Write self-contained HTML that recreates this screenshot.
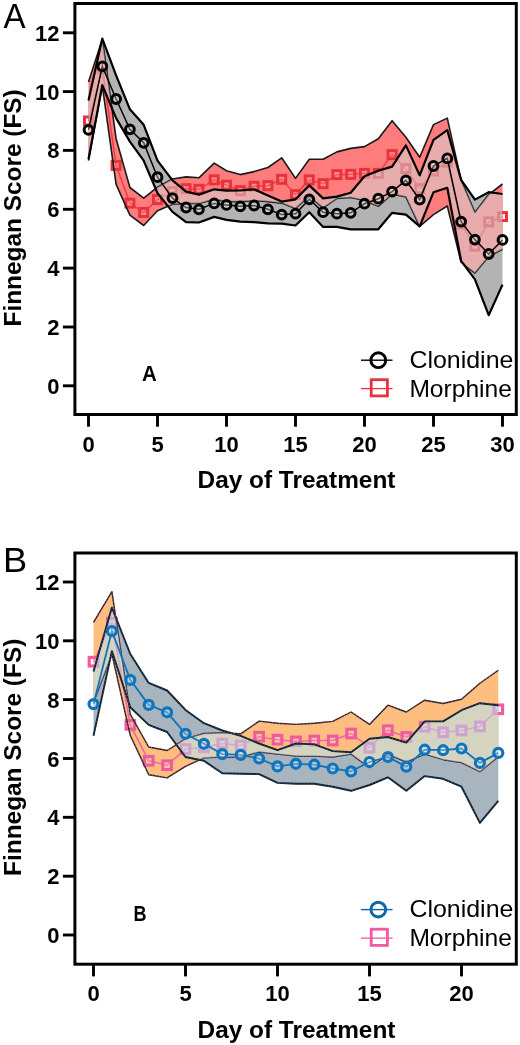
<!DOCTYPE html>
<html><head><meta charset="utf-8"><style>
html,body{margin:0;padding:0;background:#fff;}
svg{display:block;will-change:transform;}
text{font-family:"Liberation Sans",sans-serif;fill:#000;}
.tk{font-size:22px;font-weight:bold;}
.ti{font-size:24.4px;font-weight:bold;}
.pl{font-size:34.5px;}
.il{font-size:20.5px;font-weight:bold;}
.lg{font-size:24px;}
</style></head><body>
<svg width="520" height="1045" viewBox="0 0 520 1045">
<rect width="520" height="1045" fill="#fff"/>
<clipPath id="cA"><polygon points="88.5,100.4 102.3,38.6 116.1,75.4 129.9,109.3 143.7,124.8 157.5,160.7 172.5,180.4 186.1,191.6 198.9,194.6 214.2,189.3 226.5,190.7 240.3,190.5 254.1,189.3 267.9,195.5 281.7,201.6 295.5,199.3 309.3,185.4 323.1,198.4 336.9,196.6 350.7,192.8 364.5,176.3 378.3,170.7 392.1,166.6 405.9,145.4 419.7,175.4 433.5,139.8 447.3,130.1 461.1,179.9 474.9,199.6 488.7,192.2 502.5,194 502.5,284.6 488.7,315.2 474.9,279.3 461.1,260.8 447.3,187.8 433.5,192.2 419.7,226.3 405.9,214.6 392.1,212.8 378.3,229.3 364.5,229.3 350.7,229.3 336.9,226.9 323.1,226.9 309.3,212.2 295.5,225.5 281.7,223.7 267.9,223.4 254.1,222.2 240.3,221.6 226.5,219.9 214.2,216.9 198.9,222.5 186.1,222.2 172.5,211.9 157.5,193.1 143.7,160.7 129.9,141.6 116.1,118.1 102.3,85.1 88.5,159.3"/></clipPath>
<polygon points="88.5,100.4 102.3,38.6 116.1,75.4 129.9,109.3 143.7,124.8 157.5,160.7 172.5,180.4 186.1,191.6 198.9,194.6 214.2,189.3 226.5,190.7 240.3,190.5 254.1,189.3 267.9,195.5 281.7,201.6 295.5,199.3 309.3,185.4 323.1,198.4 336.9,196.6 350.7,192.8 364.5,176.3 378.3,170.7 392.1,166.6 405.9,145.4 419.7,175.4 433.5,139.8 447.3,130.1 461.1,179.9 474.9,199.6 488.7,192.2 502.5,194 502.5,284.6 488.7,315.2 474.9,279.3 461.1,260.8 447.3,187.8 433.5,192.2 419.7,226.3 405.9,214.6 392.1,212.8 378.3,229.3 364.5,229.3 350.7,229.3 336.9,226.9 323.1,226.9 309.3,212.2 295.5,225.5 281.7,223.7 267.9,223.4 254.1,222.2 240.3,221.6 226.5,219.9 214.2,216.9 198.9,222.5 186.1,222.2 172.5,211.9 157.5,193.1 143.7,160.7 129.9,141.6 116.1,118.1 102.3,85.1 88.5,159.3" fill="#B3B3B3"/>
<polygon points="88.5,81.9 102.3,39.2 116.1,138.7 129.9,187.5 143.7,198.1 157.5,187.2 172.5,179 186.1,176.9 198.9,177.8 214.2,163.1 226.5,170.7 240.3,174.6 254.1,171.6 267.9,167.5 281.7,157.8 295.5,178.4 309.3,159.3 323.1,159.3 336.9,151.9 350.7,148.4 364.5,146.6 378.3,138.7 392.1,120.7 405.9,137.2 419.7,157.2 433.5,124.6 447.3,118.1 461.1,180.4 474.9,212.5 488.7,194.6 502.5,184 502.5,249.3 488.7,256.4 474.9,273.1 461.1,262.2 447.3,206 433.5,214.6 419.7,226.3 405.9,196.9 392.1,194 378.3,206.3 364.5,200.5 350.7,197.5 336.9,198.4 323.1,207.8 309.3,196 295.5,208.4 281.7,203.1 267.9,201.6 254.1,200.5 240.3,201.6 226.5,201.6 214.2,199.3 198.9,203.4 186.1,203.4 172.5,204.3 157.5,210.8 143.7,225.5 129.9,215.2 116.1,184.3 102.3,85.7 88.5,160.7" fill="#FF7C7C"/>
<polyline points="88.5,121 102.3,68.1 116.1,165.4 129.9,203.1 143.7,212.5 157.5,199.6 172.5,191.6 186.1,188.7 198.9,189.3 214.2,179.9 226.5,185.2 240.3,190.7 254.1,186.3 267.9,185.7 281.7,179.3 295.5,194.6 309.3,179.9 323.1,183.7 336.9,174.6 350.7,174.3 364.5,173.4 378.3,173.4 392.1,154.6 405.9,168.7 419.7,188.7 433.5,171 447.3,162.2 461.1,224 474.9,246.1 488.7,221.9 502.5,216.6" fill="none" stroke="#E83A44" stroke-width="1.4"/>
<rect x="84.5" y="117" width="8" height="8" fill="rgba(255,255,255,0.15)" stroke="#E8323C" stroke-width="3.0"/>
<rect x="98.3" y="64.1" width="8" height="8" fill="rgba(255,255,255,0.15)" stroke="#E8323C" stroke-width="3.0"/>
<rect x="112.1" y="161.4" width="8" height="8" fill="rgba(255,255,255,0.15)" stroke="#E8323C" stroke-width="3.0"/>
<rect x="125.9" y="199.1" width="8" height="8" fill="rgba(255,255,255,0.15)" stroke="#E8323C" stroke-width="3.0"/>
<rect x="139.7" y="208.5" width="8" height="8" fill="rgba(255,255,255,0.15)" stroke="#E8323C" stroke-width="3.0"/>
<rect x="153.5" y="195.6" width="8" height="8" fill="rgba(255,255,255,0.15)" stroke="#E8323C" stroke-width="3.0"/>
<rect x="168.5" y="187.6" width="8" height="8" fill="rgba(255,255,255,0.15)" stroke="#E8323C" stroke-width="3.0"/>
<rect x="182.1" y="184.7" width="8" height="8" fill="rgba(255,255,255,0.15)" stroke="#E8323C" stroke-width="3.0"/>
<rect x="194.9" y="185.3" width="8" height="8" fill="rgba(255,255,255,0.15)" stroke="#E8323C" stroke-width="3.0"/>
<rect x="210.2" y="175.9" width="8" height="8" fill="rgba(255,255,255,0.15)" stroke="#E8323C" stroke-width="3.0"/>
<rect x="222.5" y="181.2" width="8" height="8" fill="rgba(255,255,255,0.15)" stroke="#E8323C" stroke-width="3.0"/>
<rect x="236.3" y="186.7" width="8" height="8" fill="rgba(255,255,255,0.15)" stroke="#E8323C" stroke-width="3.0"/>
<rect x="250.1" y="182.3" width="8" height="8" fill="rgba(255,255,255,0.15)" stroke="#E8323C" stroke-width="3.0"/>
<rect x="263.9" y="181.7" width="8" height="8" fill="rgba(255,255,255,0.15)" stroke="#E8323C" stroke-width="3.0"/>
<rect x="277.7" y="175.3" width="8" height="8" fill="rgba(255,255,255,0.15)" stroke="#E8323C" stroke-width="3.0"/>
<rect x="291.5" y="190.6" width="8" height="8" fill="rgba(255,255,255,0.15)" stroke="#E8323C" stroke-width="3.0"/>
<rect x="305.3" y="175.9" width="8" height="8" fill="rgba(255,255,255,0.15)" stroke="#E8323C" stroke-width="3.0"/>
<rect x="319.1" y="179.7" width="8" height="8" fill="rgba(255,255,255,0.15)" stroke="#E8323C" stroke-width="3.0"/>
<rect x="332.9" y="170.6" width="8" height="8" fill="rgba(255,255,255,0.15)" stroke="#E8323C" stroke-width="3.0"/>
<rect x="346.7" y="170.3" width="8" height="8" fill="rgba(255,255,255,0.15)" stroke="#E8323C" stroke-width="3.0"/>
<rect x="360.5" y="169.4" width="8" height="8" fill="rgba(255,255,255,0.15)" stroke="#E8323C" stroke-width="3.0"/>
<rect x="374.3" y="169.4" width="8" height="8" fill="rgba(255,255,255,0.15)" stroke="#E8323C" stroke-width="3.0"/>
<rect x="388.1" y="150.6" width="8" height="8" fill="rgba(255,255,255,0.15)" stroke="#E8323C" stroke-width="3.0"/>
<rect x="401.9" y="164.7" width="8" height="8" fill="rgba(255,255,255,0.15)" stroke="#E8323C" stroke-width="3.0"/>
<rect x="415.7" y="184.7" width="8" height="8" fill="rgba(255,255,255,0.15)" stroke="#E8323C" stroke-width="3.0"/>
<rect x="429.5" y="167" width="8" height="8" fill="rgba(255,255,255,0.15)" stroke="#E8323C" stroke-width="3.0"/>
<rect x="443.3" y="158.2" width="8" height="8" fill="rgba(255,255,255,0.15)" stroke="#E8323C" stroke-width="3.0"/>
<rect x="457.1" y="220" width="8" height="8" fill="rgba(255,255,255,0.15)" stroke="#E8323C" stroke-width="3.0"/>
<rect x="470.9" y="242.1" width="8" height="8" fill="rgba(255,255,255,0.15)" stroke="#E8323C" stroke-width="3.0"/>
<rect x="484.7" y="217.9" width="8" height="8" fill="rgba(255,255,255,0.15)" stroke="#E8323C" stroke-width="3.0"/>
<rect x="498.5" y="212.6" width="8" height="8" fill="rgba(255,255,255,0.15)" stroke="#E8323C" stroke-width="3.0"/>
<polyline points="88.5,81.9 102.3,39.2 116.1,138.7 129.9,187.5 143.7,198.1 157.5,187.2 172.5,179 186.1,176.9 198.9,177.8 214.2,163.1 226.5,170.7 240.3,174.6 254.1,171.6 267.9,167.5 281.7,157.8 295.5,178.4 309.3,159.3 323.1,159.3 336.9,151.9 350.7,148.4 364.5,146.6 378.3,138.7 392.1,120.7 405.9,137.2 419.7,157.2 433.5,124.6 447.3,118.1 461.1,180.4 474.9,212.5 488.7,194.6 502.5,184" fill="none" stroke="#1a1a1a" stroke-width="1.6" stroke-dasharray="none" stroke-linejoin="round"/>
<polyline points="88.5,160.7 102.3,85.7 116.1,184.3 129.9,215.2 143.7,225.5 157.5,210.8 172.5,204.3 186.1,203.4 198.9,203.4 214.2,199.3 226.5,201.6 240.3,201.6 254.1,200.5 267.9,201.6 281.7,203.1 295.5,208.4 309.3,196 323.1,207.8 336.9,198.4 350.7,197.5 364.5,200.5 378.3,206.3 392.1,194 405.9,196.9 419.7,226.3 433.5,214.6 447.3,206 461.1,262.2 474.9,273.1 488.7,256.4 502.5,249.3" fill="none" stroke="#1a1a1a" stroke-width="1.6" stroke-dasharray="none" stroke-linejoin="round"/>
<polygon points="88.5,81.9 102.3,39.2 116.1,138.7 129.9,187.5 143.7,198.1 157.5,187.2 172.5,179 186.1,176.9 198.9,177.8 214.2,163.1 226.5,170.7 240.3,174.6 254.1,171.6 267.9,167.5 281.7,157.8 295.5,178.4 309.3,159.3 323.1,159.3 336.9,151.9 350.7,148.4 364.5,146.6 378.3,138.7 392.1,120.7 405.9,137.2 419.7,157.2 433.5,124.6 447.3,118.1 461.1,180.4 474.9,212.5 488.7,194.6 502.5,184 502.5,249.3 488.7,256.4 474.9,273.1 461.1,262.2 447.3,206 433.5,214.6 419.7,226.3 405.9,196.9 392.1,194 378.3,206.3 364.5,200.5 350.7,197.5 336.9,198.4 323.1,207.8 309.3,196 295.5,208.4 281.7,203.1 267.9,201.6 254.1,200.5 240.3,201.6 226.5,201.6 214.2,199.3 198.9,203.4 186.1,203.4 172.5,204.3 157.5,210.8 143.7,225.5 129.9,215.2 116.1,184.3 102.3,85.7 88.5,160.7" fill="rgba(209,220,220,0.5)" clip-path="url(#cA)"/>
<polyline points="88.5,100.4 102.3,38.6 116.1,75.4 129.9,109.3 143.7,124.8 157.5,160.7 172.5,180.4 186.1,191.6 198.9,194.6 214.2,189.3 226.5,190.7 240.3,190.5 254.1,189.3 267.9,195.5 281.7,201.6 295.5,199.3 309.3,185.4 323.1,198.4 336.9,196.6 350.7,192.8 364.5,176.3 378.3,170.7 392.1,166.6 405.9,145.4 419.7,175.4 433.5,139.8 447.3,130.1 461.1,179.9 474.9,199.6 488.7,192.2 502.5,194" fill="none" stroke="#000" stroke-width="2.2" stroke-linejoin="round"/>
<polyline points="88.5,159.3 102.3,85.1 116.1,118.1 129.9,141.6 143.7,160.7 157.5,193.1 172.5,211.9 186.1,222.2 198.9,222.5 214.2,216.9 226.5,219.9 240.3,221.6 254.1,222.2 267.9,223.4 281.7,223.7 295.5,225.5 309.3,212.2 323.1,226.9 336.9,226.9 350.7,229.3 364.5,229.3 378.3,229.3 392.1,212.8 405.9,214.6 419.7,226.3 433.5,192.2 447.3,187.8 461.1,260.8 474.9,279.3 488.7,315.2 502.5,284.6" fill="none" stroke="#000" stroke-width="2.2" stroke-linejoin="round"/>
<polyline points="88.5,129.8 102.3,66.3 116.1,99 129.9,129.3 143.7,142.8 157.5,177.2 172.5,198.1 186.1,207.5 198.9,209.3 214.2,203.4 226.5,204.9 240.3,206.3 254.1,205.5 267.9,209.3 281.7,214.6 295.5,213.7 309.3,199.3 323.1,212.2 336.9,213.7 350.7,212.8 364.5,203.7 378.3,198.7 392.1,191.6 405.9,180.4 419.7,199.6 433.5,166 447.3,158.4 461.1,221.6 474.9,239.6 488.7,254 502.5,239.9" fill="none" stroke="#000" stroke-width="1.5"/>
<circle cx="88.5" cy="129.8" r="4.4" fill="rgba(255,255,255,0.3)" stroke="#000" stroke-width="3.0"/>
<circle cx="102.3" cy="66.3" r="4.4" fill="rgba(255,255,255,0.3)" stroke="#000" stroke-width="3.0"/>
<circle cx="116.1" cy="99" r="4.4" fill="rgba(255,255,255,0.3)" stroke="#000" stroke-width="3.0"/>
<circle cx="129.9" cy="129.3" r="4.4" fill="rgba(255,255,255,0.3)" stroke="#000" stroke-width="3.0"/>
<circle cx="143.7" cy="142.8" r="4.4" fill="rgba(255,255,255,0.3)" stroke="#000" stroke-width="3.0"/>
<circle cx="157.5" cy="177.2" r="4.4" fill="rgba(255,255,255,0.3)" stroke="#000" stroke-width="3.0"/>
<circle cx="172.5" cy="198.1" r="4.4" fill="rgba(255,255,255,0.3)" stroke="#000" stroke-width="3.0"/>
<circle cx="186.1" cy="207.5" r="4.4" fill="rgba(255,255,255,0.3)" stroke="#000" stroke-width="3.0"/>
<circle cx="198.9" cy="209.3" r="4.4" fill="rgba(255,255,255,0.3)" stroke="#000" stroke-width="3.0"/>
<circle cx="214.2" cy="203.4" r="4.4" fill="rgba(255,255,255,0.3)" stroke="#000" stroke-width="3.0"/>
<circle cx="226.5" cy="204.9" r="4.4" fill="rgba(255,255,255,0.3)" stroke="#000" stroke-width="3.0"/>
<circle cx="240.3" cy="206.3" r="4.4" fill="rgba(255,255,255,0.3)" stroke="#000" stroke-width="3.0"/>
<circle cx="254.1" cy="205.5" r="4.4" fill="rgba(255,255,255,0.3)" stroke="#000" stroke-width="3.0"/>
<circle cx="267.9" cy="209.3" r="4.4" fill="rgba(255,255,255,0.3)" stroke="#000" stroke-width="3.0"/>
<circle cx="281.7" cy="214.6" r="4.4" fill="rgba(255,255,255,0.3)" stroke="#000" stroke-width="3.0"/>
<circle cx="295.5" cy="213.7" r="4.4" fill="rgba(255,255,255,0.3)" stroke="#000" stroke-width="3.0"/>
<circle cx="309.3" cy="199.3" r="4.4" fill="rgba(255,255,255,0.3)" stroke="#000" stroke-width="3.0"/>
<circle cx="323.1" cy="212.2" r="4.4" fill="rgba(255,255,255,0.3)" stroke="#000" stroke-width="3.0"/>
<circle cx="336.9" cy="213.7" r="4.4" fill="rgba(255,255,255,0.3)" stroke="#000" stroke-width="3.0"/>
<circle cx="350.7" cy="212.8" r="4.4" fill="rgba(255,255,255,0.3)" stroke="#000" stroke-width="3.0"/>
<circle cx="364.5" cy="203.7" r="4.4" fill="rgba(255,255,255,0.3)" stroke="#000" stroke-width="3.0"/>
<circle cx="378.3" cy="198.7" r="4.4" fill="rgba(255,255,255,0.3)" stroke="#000" stroke-width="3.0"/>
<circle cx="392.1" cy="191.6" r="4.4" fill="rgba(255,255,255,0.3)" stroke="#000" stroke-width="3.0"/>
<circle cx="405.9" cy="180.4" r="4.4" fill="rgba(255,255,255,0.3)" stroke="#000" stroke-width="3.0"/>
<circle cx="419.7" cy="199.6" r="4.4" fill="rgba(255,255,255,0.3)" stroke="#000" stroke-width="3.0"/>
<circle cx="433.5" cy="166" r="4.4" fill="rgba(255,255,255,0.3)" stroke="#000" stroke-width="3.0"/>
<circle cx="447.3" cy="158.4" r="4.4" fill="rgba(255,255,255,0.3)" stroke="#000" stroke-width="3.0"/>
<circle cx="461.1" cy="221.6" r="4.4" fill="rgba(255,255,255,0.3)" stroke="#000" stroke-width="3.0"/>
<circle cx="474.9" cy="239.6" r="4.4" fill="rgba(255,255,255,0.3)" stroke="#000" stroke-width="3.0"/>
<circle cx="488.7" cy="254" r="4.4" fill="rgba(255,255,255,0.3)" stroke="#000" stroke-width="3.0"/>
<circle cx="502.5" cy="239.9" r="4.4" fill="rgba(255,255,255,0.3)" stroke="#000" stroke-width="3.0"/>
<rect x="74.9" y="3.5" width="441.4" height="411" fill="none" stroke="#000" stroke-width="3.0"/>
<line x1="62.9" y1="385.8" x2="74.9" y2="385.8" stroke="#000" stroke-width="2.9"/>
<text transform="translate(59.6 393.8)" class="tk" text-anchor="end">0</text>
<line x1="62.9" y1="327" x2="74.9" y2="327" stroke="#000" stroke-width="2.9"/>
<text transform="translate(59.6 335)" class="tk" text-anchor="end">2</text>
<line x1="62.9" y1="268.1" x2="74.9" y2="268.1" stroke="#000" stroke-width="2.9"/>
<text transform="translate(59.6 276.1)" class="tk" text-anchor="end">4</text>
<line x1="62.9" y1="209.3" x2="74.9" y2="209.3" stroke="#000" stroke-width="2.9"/>
<text transform="translate(59.6 217.3)" class="tk" text-anchor="end">6</text>
<line x1="62.9" y1="150.4" x2="74.9" y2="150.4" stroke="#000" stroke-width="2.9"/>
<text transform="translate(59.6 158.4)" class="tk" text-anchor="end">8</text>
<line x1="62.9" y1="91.6" x2="74.9" y2="91.6" stroke="#000" stroke-width="2.9"/>
<text transform="translate(59.6 99.6)" class="tk" text-anchor="end">10</text>
<line x1="62.9" y1="32.8" x2="74.9" y2="32.8" stroke="#000" stroke-width="2.9"/>
<text transform="translate(59.6 40.8)" class="tk" text-anchor="end">12</text>
<line x1="88.5" y1="414.5" x2="88.5" y2="426.7" stroke="#000" stroke-width="2.9"/>
<text transform="translate(88.5 451.5)" class="tk" text-anchor="middle">0</text>
<line x1="157.5" y1="414.5" x2="157.5" y2="426.7" stroke="#000" stroke-width="2.9"/>
<text transform="translate(157.5 451.5)" class="tk" text-anchor="middle">5</text>
<line x1="226.5" y1="414.5" x2="226.5" y2="426.7" stroke="#000" stroke-width="2.9"/>
<text transform="translate(226.5 451.5)" class="tk" text-anchor="middle">10</text>
<line x1="295.5" y1="414.5" x2="295.5" y2="426.7" stroke="#000" stroke-width="2.9"/>
<text transform="translate(295.5 451.5)" class="tk" text-anchor="middle">15</text>
<line x1="364.5" y1="414.5" x2="364.5" y2="426.7" stroke="#000" stroke-width="2.9"/>
<text transform="translate(364.5 451.5)" class="tk" text-anchor="middle">20</text>
<line x1="433.5" y1="414.5" x2="433.5" y2="426.7" stroke="#000" stroke-width="2.9"/>
<text transform="translate(433.5 451.5)" class="tk" text-anchor="middle">25</text>
<line x1="502.5" y1="414.5" x2="502.5" y2="426.7" stroke="#000" stroke-width="2.9"/>
<text transform="translate(502.5 451.5)" class="tk" text-anchor="middle">30</text>
<text x="296.5" y="488.3" class="ti" text-anchor="middle">Day of Treatment</text>
<text transform="translate(20.6 207.9) rotate(-90)" x="0" y="0" class="ti" text-anchor="middle">Finnegan Score (FS)</text>
<text transform="translate(3.6 28.3) scale(0.96 1.03)" class="pl">A</text>
<text transform="translate(142 380.8) scale(1.0 1.08)" class="il">A</text>
<line x1="361" y1="360.2" x2="392.5" y2="360.2" stroke="#000" stroke-width="1.4"/>
<circle cx="378.3" cy="360.2" r="7.4" fill="none" stroke="#000" stroke-width="2.9"/>
<line x1="361" y1="388.6" x2="392.5" y2="388.6" stroke="#E8323C" stroke-width="1.3"/>
<rect x="371.2" y="379.7" width="16.2" height="16.2" fill="none" stroke="#E8323C" stroke-width="2.8"/>
<text x="409.4" y="368" class="lg" textLength="104" lengthAdjust="spacingAndGlyphs">Clonidine</text>
<text x="409.4" y="396.8" class="lg" textLength="102.5" lengthAdjust="spacingAndGlyphs">Morphine</text>
<clipPath id="cB"><polygon points="93.5,671.4 111.9,607.6 130.3,654 148.7,682.9 167.1,690.5 185.5,709.9 203.9,723.2 222.3,730.5 240.7,735.8 259.1,743.5 277.5,750.2 295.9,743.5 314.3,744.4 332.7,751.1 351.1,752.3 369.5,738.8 387.9,737 406.3,742.6 424.7,721.4 443.1,721.4 461.5,710.2 479.9,703.2 498.3,705.2 498.3,800.8 479.9,822.9 461.5,786.7 443.1,778.8 424.7,776.1 406.3,790.8 387.9,777.3 369.5,785 351.1,790.8 332.7,786.7 314.3,783.8 295.9,783.8 277.5,782.9 259.1,774.1 240.7,773.8 222.3,773.2 203.9,760.8 185.5,757 167.1,732 148.7,724.9 130.3,707.3 111.9,651.1 93.5,735.8"/></clipPath>
<polygon points="93.5,671.4 111.9,607.6 130.3,654 148.7,682.9 167.1,690.5 185.5,709.9 203.9,723.2 222.3,730.5 240.7,735.8 259.1,743.5 277.5,750.2 295.9,743.5 314.3,744.4 332.7,751.1 351.1,752.3 369.5,738.8 387.9,737 406.3,742.6 424.7,721.4 443.1,721.4 461.5,710.2 479.9,703.2 498.3,705.2 498.3,800.8 479.9,822.9 461.5,786.7 443.1,778.8 424.7,776.1 406.3,790.8 387.9,777.3 369.5,785 351.1,790.8 332.7,786.7 314.3,783.8 295.9,783.8 277.5,782.9 259.1,774.1 240.7,773.8 222.3,773.2 203.9,760.8 185.5,757 167.1,732 148.7,724.9 130.3,707.3 111.9,651.1 93.5,735.8" fill="#A8B4BE"/>
<polygon points="93.5,622.3 111.9,591.7 130.3,714.4 148.7,747 167.1,750.5 185.5,738.8 203.9,733.5 222.3,732.9 240.7,733.8 259.1,721.1 277.5,723.2 295.9,724.4 314.3,723.2 332.7,721.4 351.1,712 369.5,724.4 387.9,705.2 406.3,712 424.7,700.2 443.1,703.5 461.5,699.3 479.9,683.2 498.3,670.2 498.3,756.7 479.9,771.7 461.5,762.6 443.1,759.7 424.7,754.1 406.3,762 387.9,754.1 369.5,767.6 351.1,754.1 332.7,757 314.3,756.1 295.9,756.1 277.5,754.1 259.1,752 240.7,757 222.3,757 203.9,757.9 185.5,766.4 167.1,777.9 148.7,774.7 130.3,735.5 111.9,654 93.5,702.6" fill="#FDBE80"/>
<polyline points="93.5,661.7 111.9,622.6 130.3,724.9 148.7,760.8 167.1,765.2 185.5,749.1 203.9,747.3 222.3,743.5 240.7,745.5 259.1,736.7 277.5,739.7 295.9,741.4 314.3,740.5 332.7,740.5 351.1,733.5 369.5,747.6 387.9,730.2 406.3,737 424.7,726.7 443.1,732.3 461.5,730.5 479.9,726.4 498.3,709.3" fill="none" stroke="#F064A6" stroke-width="1.5"/>
<rect x="89.2" y="657.4" width="8.6" height="8.6" fill="rgba(255,255,255,0.15)" stroke="#F05A9E" stroke-width="3.1"/>
<rect x="107.6" y="618.3" width="8.6" height="8.6" fill="rgba(255,255,255,0.15)" stroke="#F05A9E" stroke-width="3.1"/>
<rect x="126" y="720.6" width="8.6" height="8.6" fill="rgba(255,255,255,0.15)" stroke="#F05A9E" stroke-width="3.1"/>
<rect x="144.4" y="756.5" width="8.6" height="8.6" fill="rgba(255,255,255,0.15)" stroke="#F05A9E" stroke-width="3.1"/>
<rect x="162.8" y="760.9" width="8.6" height="8.6" fill="rgba(255,255,255,0.15)" stroke="#F05A9E" stroke-width="3.1"/>
<rect x="181.2" y="744.8" width="8.6" height="8.6" fill="rgba(255,255,255,0.15)" stroke="#F05A9E" stroke-width="3.1"/>
<rect x="199.6" y="743" width="8.6" height="8.6" fill="rgba(255,255,255,0.15)" stroke="#F05A9E" stroke-width="3.1"/>
<rect x="218" y="739.2" width="8.6" height="8.6" fill="rgba(255,255,255,0.15)" stroke="#F05A9E" stroke-width="3.1"/>
<rect x="236.4" y="741.2" width="8.6" height="8.6" fill="rgba(255,255,255,0.15)" stroke="#F05A9E" stroke-width="3.1"/>
<rect x="254.8" y="732.4" width="8.6" height="8.6" fill="rgba(255,255,255,0.15)" stroke="#F05A9E" stroke-width="3.1"/>
<rect x="273.2" y="735.4" width="8.6" height="8.6" fill="rgba(255,255,255,0.15)" stroke="#F05A9E" stroke-width="3.1"/>
<rect x="291.6" y="737.1" width="8.6" height="8.6" fill="rgba(255,255,255,0.15)" stroke="#F05A9E" stroke-width="3.1"/>
<rect x="310" y="736.2" width="8.6" height="8.6" fill="rgba(255,255,255,0.15)" stroke="#F05A9E" stroke-width="3.1"/>
<rect x="328.4" y="736.2" width="8.6" height="8.6" fill="rgba(255,255,255,0.15)" stroke="#F05A9E" stroke-width="3.1"/>
<rect x="346.8" y="729.2" width="8.6" height="8.6" fill="rgba(255,255,255,0.15)" stroke="#F05A9E" stroke-width="3.1"/>
<rect x="365.2" y="743.3" width="8.6" height="8.6" fill="rgba(255,255,255,0.15)" stroke="#F05A9E" stroke-width="3.1"/>
<rect x="383.6" y="725.9" width="8.6" height="8.6" fill="rgba(255,255,255,0.15)" stroke="#F05A9E" stroke-width="3.1"/>
<rect x="402" y="732.7" width="8.6" height="8.6" fill="rgba(255,255,255,0.15)" stroke="#F05A9E" stroke-width="3.1"/>
<rect x="420.4" y="722.4" width="8.6" height="8.6" fill="rgba(255,255,255,0.15)" stroke="#F05A9E" stroke-width="3.1"/>
<rect x="438.8" y="728" width="8.6" height="8.6" fill="rgba(255,255,255,0.15)" stroke="#F05A9E" stroke-width="3.1"/>
<rect x="457.2" y="726.2" width="8.6" height="8.6" fill="rgba(255,255,255,0.15)" stroke="#F05A9E" stroke-width="3.1"/>
<rect x="475.6" y="722.1" width="8.6" height="8.6" fill="rgba(255,255,255,0.15)" stroke="#F05A9E" stroke-width="3.1"/>
<rect x="494" y="705" width="8.6" height="8.6" fill="rgba(255,255,255,0.15)" stroke="#F05A9E" stroke-width="3.1"/>
<polyline points="93.5,622.3 111.9,591.7 130.3,714.4 148.7,747 167.1,750.5 185.5,738.8 203.9,733.5 222.3,732.9 240.7,733.8 259.1,721.1 277.5,723.2 295.9,724.4 314.3,723.2 332.7,721.4 351.1,712 369.5,724.4 387.9,705.2 406.3,712 424.7,700.2 443.1,703.5 461.5,699.3 479.9,683.2 498.3,670.2" fill="none" stroke="#222222" stroke-width="1.4" stroke-dasharray="none" stroke-linejoin="round"/>
<polyline points="93.5,702.6 111.9,654 130.3,735.5 148.7,774.7 167.1,777.9 185.5,766.4 203.9,757.9 222.3,757 240.7,757 259.1,752 277.5,754.1 295.9,756.1 314.3,756.1 332.7,757 351.1,754.1 369.5,767.6 387.9,754.1 406.3,762 424.7,754.1 443.1,759.7 461.5,762.6 479.9,771.7 498.3,756.7" fill="none" stroke="#222222" stroke-width="1.4" stroke-dasharray="none" stroke-linejoin="round"/>
<polygon points="93.5,622.3 111.9,591.7 130.3,714.4 148.7,747 167.1,750.5 185.5,738.8 203.9,733.5 222.3,732.9 240.7,733.8 259.1,721.1 277.5,723.2 295.9,724.4 314.3,723.2 332.7,721.4 351.1,712 369.5,724.4 387.9,705.2 406.3,712 424.7,700.2 443.1,703.5 461.5,699.3 479.9,683.2 498.3,670.2 498.3,756.7 479.9,771.7 461.5,762.6 443.1,759.7 424.7,754.1 406.3,762 387.9,754.1 369.5,767.6 351.1,754.1 332.7,757 314.3,756.1 295.9,756.1 277.5,754.1 259.1,752 240.7,757 222.3,757 203.9,757.9 185.5,766.4 167.1,777.9 148.7,774.7 130.3,735.5 111.9,654 93.5,702.6" fill="rgba(173,234,255,0.5)" clip-path="url(#cB)"/>
<polyline points="93.5,671.4 111.9,607.6 130.3,654 148.7,682.9 167.1,690.5 185.5,709.9 203.9,723.2 222.3,730.5 240.7,735.8 259.1,743.5 277.5,750.2 295.9,743.5 314.3,744.4 332.7,751.1 351.1,752.3 369.5,738.8 387.9,737 406.3,742.6 424.7,721.4 443.1,721.4 461.5,710.2 479.9,703.2 498.3,705.2" fill="none" stroke="#15202b" stroke-width="1.9" stroke-linejoin="round"/>
<polyline points="93.5,735.8 111.9,651.1 130.3,707.3 148.7,724.9 167.1,732 185.5,757 203.9,760.8 222.3,773.2 240.7,773.8 259.1,774.1 277.5,782.9 295.9,783.8 314.3,783.8 332.7,786.7 351.1,790.8 369.5,785 387.9,777.3 406.3,790.8 424.7,776.1 443.1,778.8 461.5,786.7 479.9,822.9 498.3,800.8" fill="none" stroke="#15202b" stroke-width="1.9" stroke-linejoin="round"/>
<polyline points="93.5,622.3 111.9,591.7 130.3,714.4 148.7,747 167.1,750.5 185.5,738.8 203.9,733.5 222.3,732.9 240.7,733.8 259.1,721.1 277.5,723.2 295.9,724.4 314.3,723.2 332.7,721.4 351.1,712 369.5,724.4 387.9,705.2 406.3,712 424.7,700.2 443.1,703.5 461.5,699.3 479.9,683.2 498.3,670.2" fill="none" stroke="#F05A9E" stroke-width="0.9" stroke-dasharray="1 2.5" opacity="0.8"/>
<polyline points="93.5,702.6 111.9,654 130.3,735.5 148.7,774.7 167.1,777.9 185.5,766.4 203.9,757.9 222.3,757 240.7,757 259.1,752 277.5,754.1 295.9,756.1 314.3,756.1 332.7,757 351.1,754.1 369.5,767.6 387.9,754.1 406.3,762 424.7,754.1 443.1,759.7 461.5,762.6 479.9,771.7 498.3,756.7" fill="none" stroke="#F05A9E" stroke-width="0.9" stroke-dasharray="1 2.5" opacity="0.8"/>
<polyline points="93.5,671.4 111.9,607.6 130.3,654 148.7,682.9 167.1,690.5 185.5,709.9 203.9,723.2 222.3,730.5 240.7,735.8 259.1,743.5 277.5,750.2 295.9,743.5 314.3,744.4 332.7,751.1 351.1,752.3 369.5,738.8 387.9,737 406.3,742.6 424.7,721.4 443.1,721.4 461.5,710.2 479.9,703.2 498.3,705.2" fill="none" stroke="#0E74BE" stroke-width="0.9" stroke-dasharray="1 2.5" opacity="0.8"/>
<polyline points="93.5,735.8 111.9,651.1 130.3,707.3 148.7,724.9 167.1,732 185.5,757 203.9,760.8 222.3,773.2 240.7,773.8 259.1,774.1 277.5,782.9 295.9,783.8 314.3,783.8 332.7,786.7 351.1,790.8 369.5,785 387.9,777.3 406.3,790.8 424.7,776.1 443.1,778.8 461.5,786.7 479.9,822.9 498.3,800.8" fill="none" stroke="#0E74BE" stroke-width="0.9" stroke-dasharray="1 2.5" opacity="0.8"/>
<polyline points="93.5,704.1 111.9,631.1 130.3,679.9 148.7,704.9 167.1,712.3 185.5,733.8 203.9,743.8 222.3,754.1 240.7,754.9 259.1,758.5 277.5,766.4 295.9,763.8 314.3,764.7 332.7,768.5 351.1,771.4 369.5,762 387.9,757 406.3,766.7 424.7,749.7 443.1,750.2 461.5,748.5 479.9,762.9 498.3,752.9" fill="none" stroke="#0E74BE" stroke-width="1.8"/>
<circle cx="93.5" cy="704.1" r="4.5" fill="rgba(255,255,255,0.3)" stroke="#0E74BE" stroke-width="3.2"/>
<circle cx="111.9" cy="631.1" r="4.5" fill="rgba(255,255,255,0.3)" stroke="#0E74BE" stroke-width="3.2"/>
<circle cx="130.3" cy="679.9" r="4.5" fill="rgba(255,255,255,0.3)" stroke="#0E74BE" stroke-width="3.2"/>
<circle cx="148.7" cy="704.9" r="4.5" fill="rgba(255,255,255,0.3)" stroke="#0E74BE" stroke-width="3.2"/>
<circle cx="167.1" cy="712.3" r="4.5" fill="rgba(255,255,255,0.3)" stroke="#0E74BE" stroke-width="3.2"/>
<circle cx="185.5" cy="733.8" r="4.5" fill="rgba(255,255,255,0.3)" stroke="#0E74BE" stroke-width="3.2"/>
<circle cx="203.9" cy="743.8" r="4.5" fill="rgba(255,255,255,0.3)" stroke="#0E74BE" stroke-width="3.2"/>
<circle cx="222.3" cy="754.1" r="4.5" fill="rgba(255,255,255,0.3)" stroke="#0E74BE" stroke-width="3.2"/>
<circle cx="240.7" cy="754.9" r="4.5" fill="rgba(255,255,255,0.3)" stroke="#0E74BE" stroke-width="3.2"/>
<circle cx="259.1" cy="758.5" r="4.5" fill="rgba(255,255,255,0.3)" stroke="#0E74BE" stroke-width="3.2"/>
<circle cx="277.5" cy="766.4" r="4.5" fill="rgba(255,255,255,0.3)" stroke="#0E74BE" stroke-width="3.2"/>
<circle cx="295.9" cy="763.8" r="4.5" fill="rgba(255,255,255,0.3)" stroke="#0E74BE" stroke-width="3.2"/>
<circle cx="314.3" cy="764.7" r="4.5" fill="rgba(255,255,255,0.3)" stroke="#0E74BE" stroke-width="3.2"/>
<circle cx="332.7" cy="768.5" r="4.5" fill="rgba(255,255,255,0.3)" stroke="#0E74BE" stroke-width="3.2"/>
<circle cx="351.1" cy="771.4" r="4.5" fill="rgba(255,255,255,0.3)" stroke="#0E74BE" stroke-width="3.2"/>
<circle cx="369.5" cy="762" r="4.5" fill="rgba(255,255,255,0.3)" stroke="#0E74BE" stroke-width="3.2"/>
<circle cx="387.9" cy="757" r="4.5" fill="rgba(255,255,255,0.3)" stroke="#0E74BE" stroke-width="3.2"/>
<circle cx="406.3" cy="766.7" r="4.5" fill="rgba(255,255,255,0.3)" stroke="#0E74BE" stroke-width="3.2"/>
<circle cx="424.7" cy="749.7" r="4.5" fill="rgba(255,255,255,0.3)" stroke="#0E74BE" stroke-width="3.2"/>
<circle cx="443.1" cy="750.2" r="4.5" fill="rgba(255,255,255,0.3)" stroke="#0E74BE" stroke-width="3.2"/>
<circle cx="461.5" cy="748.5" r="4.5" fill="rgba(255,255,255,0.3)" stroke="#0E74BE" stroke-width="3.2"/>
<circle cx="479.9" cy="762.9" r="4.5" fill="rgba(255,255,255,0.3)" stroke="#0E74BE" stroke-width="3.2"/>
<circle cx="498.3" cy="752.9" r="4.5" fill="rgba(255,255,255,0.3)" stroke="#0E74BE" stroke-width="3.2"/>
<rect x="74.9" y="553.0" width="441.4" height="411.2" fill="none" stroke="#000" stroke-width="3.0"/>
<line x1="62.9" y1="935" x2="74.9" y2="935" stroke="#000" stroke-width="2.9"/>
<text transform="translate(59.6 943)" class="tk" text-anchor="end">0</text>
<line x1="62.9" y1="876.2" x2="74.9" y2="876.2" stroke="#000" stroke-width="2.9"/>
<text transform="translate(59.6 884.2)" class="tk" text-anchor="end">2</text>
<line x1="62.9" y1="817.3" x2="74.9" y2="817.3" stroke="#000" stroke-width="2.9"/>
<text transform="translate(59.6 825.3)" class="tk" text-anchor="end">4</text>
<line x1="62.9" y1="758.5" x2="74.9" y2="758.5" stroke="#000" stroke-width="2.9"/>
<text transform="translate(59.6 766.5)" class="tk" text-anchor="end">6</text>
<line x1="62.9" y1="699.6" x2="74.9" y2="699.6" stroke="#000" stroke-width="2.9"/>
<text transform="translate(59.6 707.6)" class="tk" text-anchor="end">8</text>
<line x1="62.9" y1="640.8" x2="74.9" y2="640.8" stroke="#000" stroke-width="2.9"/>
<text transform="translate(59.6 648.8)" class="tk" text-anchor="end">10</text>
<line x1="62.9" y1="582" x2="74.9" y2="582" stroke="#000" stroke-width="2.9"/>
<text transform="translate(59.6 590)" class="tk" text-anchor="end">12</text>
<line x1="93.5" y1="964.2" x2="93.5" y2="976.4" stroke="#000" stroke-width="2.9"/>
<text transform="translate(93.5 1001.3)" class="tk" text-anchor="middle">0</text>
<line x1="185.5" y1="964.2" x2="185.5" y2="976.4" stroke="#000" stroke-width="2.9"/>
<text transform="translate(185.5 1001.3)" class="tk" text-anchor="middle">5</text>
<line x1="277.5" y1="964.2" x2="277.5" y2="976.4" stroke="#000" stroke-width="2.9"/>
<text transform="translate(277.5 1001.3)" class="tk" text-anchor="middle">10</text>
<line x1="369.5" y1="964.2" x2="369.5" y2="976.4" stroke="#000" stroke-width="2.9"/>
<text transform="translate(369.5 1001.3)" class="tk" text-anchor="middle">15</text>
<line x1="461.5" y1="964.2" x2="461.5" y2="976.4" stroke="#000" stroke-width="2.9"/>
<text transform="translate(461.5 1001.3)" class="tk" text-anchor="middle">20</text>
<text x="296.5" y="1037.8" class="ti" text-anchor="middle">Day of Treatment</text>
<text transform="translate(20.6 757.3) rotate(-90)" x="0" y="0" class="ti" text-anchor="middle">Finnegan Score (FS)</text>
<text transform="translate(3.0 571.9) scale(1.05 1.0)" class="pl">B</text>
<text transform="translate(133.4 920.8) scale(0.88 1.1)" class="il">B</text>
<line x1="361" y1="909.6" x2="392.5" y2="909.6" stroke="#0B66AC" stroke-width="1.4"/>
<circle cx="378.3" cy="909.6" r="7.4" fill="none" stroke="#0B66AC" stroke-width="2.9"/>
<line x1="361" y1="938.1" x2="392.5" y2="938.1" stroke="#F05A9E" stroke-width="1.3"/>
<rect x="371.2" y="929.2" width="16.2" height="16.2" fill="none" stroke="#F05A9E" stroke-width="2.8"/>
<text x="409.4" y="917.4" class="lg" textLength="104" lengthAdjust="spacingAndGlyphs">Clonidine</text>
<text x="409.4" y="946.2" class="lg" textLength="102.5" lengthAdjust="spacingAndGlyphs">Morphine</text>
</svg>
</body></html>
